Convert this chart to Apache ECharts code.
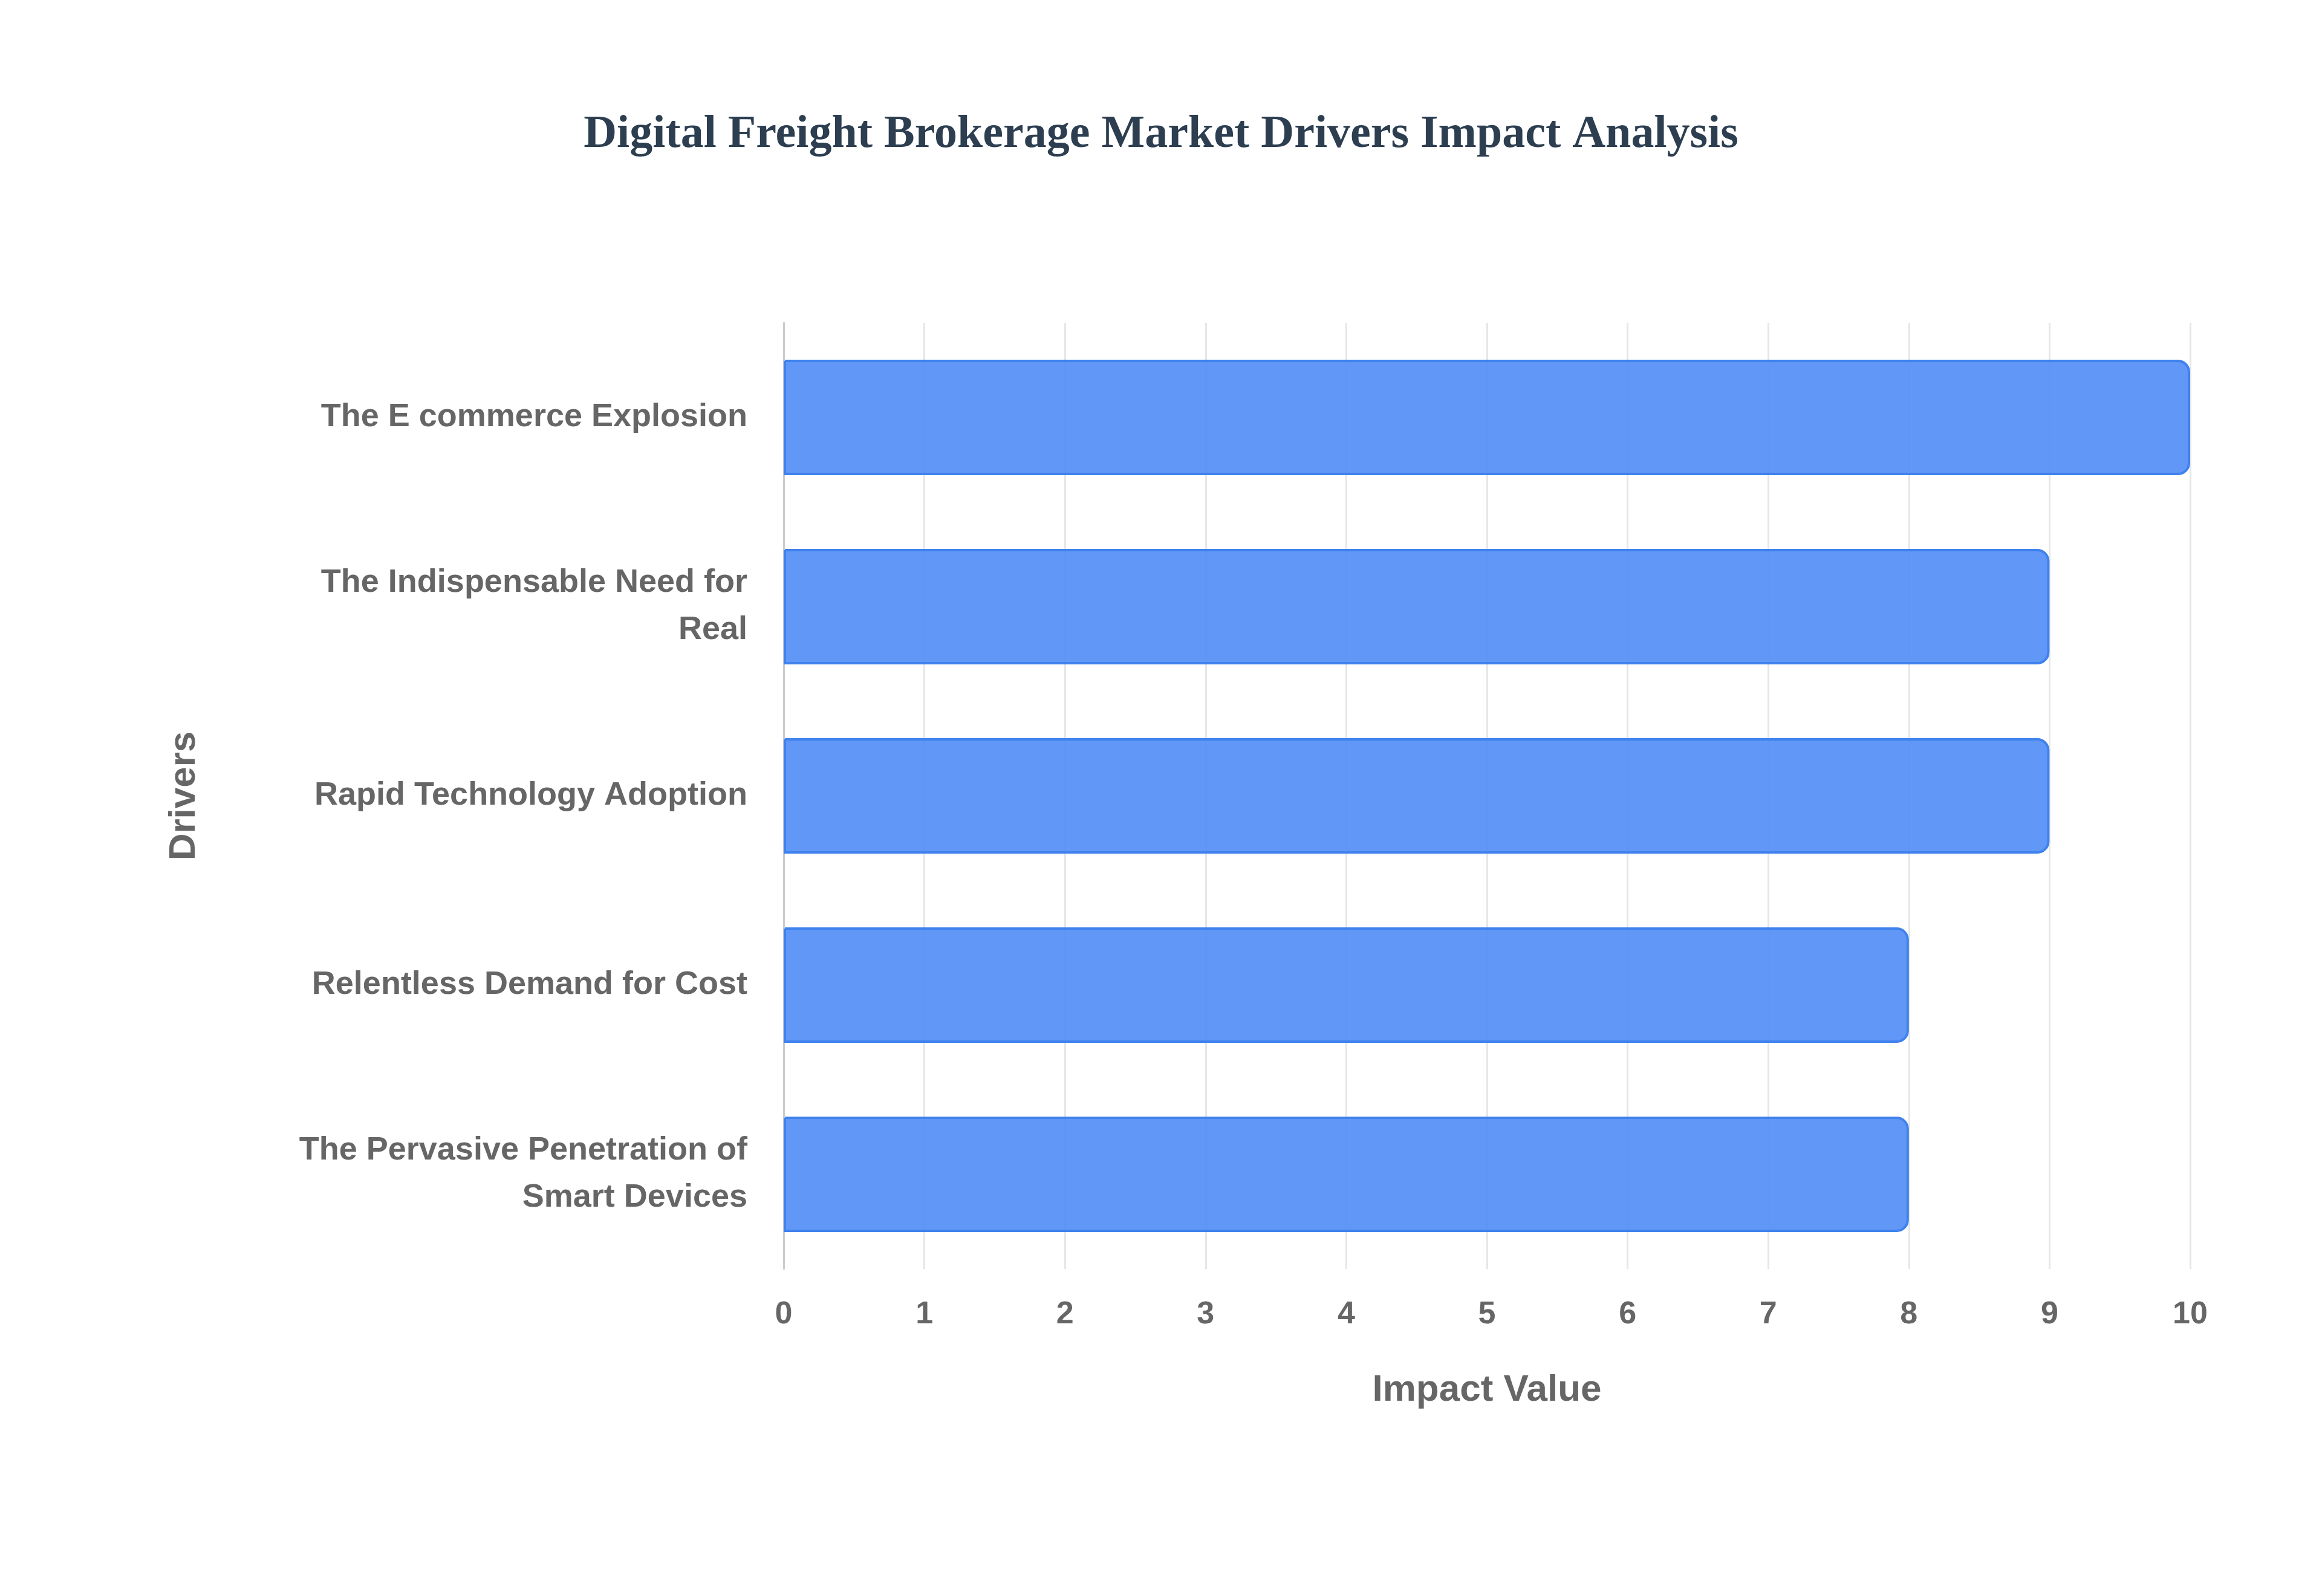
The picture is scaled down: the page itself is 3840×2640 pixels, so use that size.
<!DOCTYPE html>
<html>
<head>
<meta charset="utf-8">
<script src="https://cdn.jsdelivr.net/npm/echarts@6/dist/echarts.min.js"></script>
<style>html,body{margin:0;padding:0;background:#fff}#chart{width:3840px;height:2640px}</style>
</head>
<body>
<div id="chart"></div>
<script>
const drivers = [
  'The Pervasive Penetration of\nSmart Devices',
  'Relentless Demand for Cost',
  'Rapid Technology Adoption',
  'The Indispensable Need for\nReal',
  'The E commerce Explosion'
];
const impactValues = [8, 8, 9, 9, 10];

const chart = echarts.init(document.getElementById('chart'));
chart.setOption({
  backgroundColor: '#fff',
  title: {
    text: 'Digital Freight Brokerage Market Drivers Impact Analysis',
    left: 'center',
    top: 180,
    textStyle: { fontFamily: 'Liberation Serif', fontWeight: 'bold', fontSize: 76, color: '#2c3e50' }
  },
  grid: { left: 1296, right: 218, top: 534, bottom: 541 },
  xAxis: {
    type: 'value', min: 0, max: 10, interval: 1,
    name: 'Impact Value', nameLocation: 'middle', nameGap: 170,
    nameTextStyle: { fontFamily: 'Liberation Sans', fontWeight: 'bold', fontSize: 62, color: '#666' },
    axisLabel: { fontFamily: 'Liberation Sans', fontWeight: 'bold', fontSize: 52, color: '#666', margin: 50 },
    axisLine: { show: false }, axisTick: { show: false },
    splitLine: { show: true, lineStyle: { color: '#e6e6e6', width: 3 } }
  },
  yAxis: {
    type: 'category', data: drivers,
    name: 'Drivers', nameLocation: 'middle', nameGap: 960, nameRotate: 90,
    nameTextStyle: { fontFamily: 'Liberation Sans', fontWeight: 'bold', fontSize: 62, color: '#666' },
    axisLabel: { fontFamily: 'Liberation Sans', fontWeight: 'bold', fontSize: 54, color: '#666', margin: 60, lineHeight: 78, align: 'right' },
    axisLine: { show: true, lineStyle: { color: '#ccc', width: 3 } },
    axisTick: { show: false },
    splitLine: { show: false }
  },
  series: [{
    type: 'bar', data: impactValues, barWidth: '61%',
    itemStyle: { color: 'rgba(80,140,245,0.9)', borderColor: '#3f82ee', borderWidth: 4, borderRadius: [0, 18, 18, 0] }
  }]
});
</script>
</body>
</html>
